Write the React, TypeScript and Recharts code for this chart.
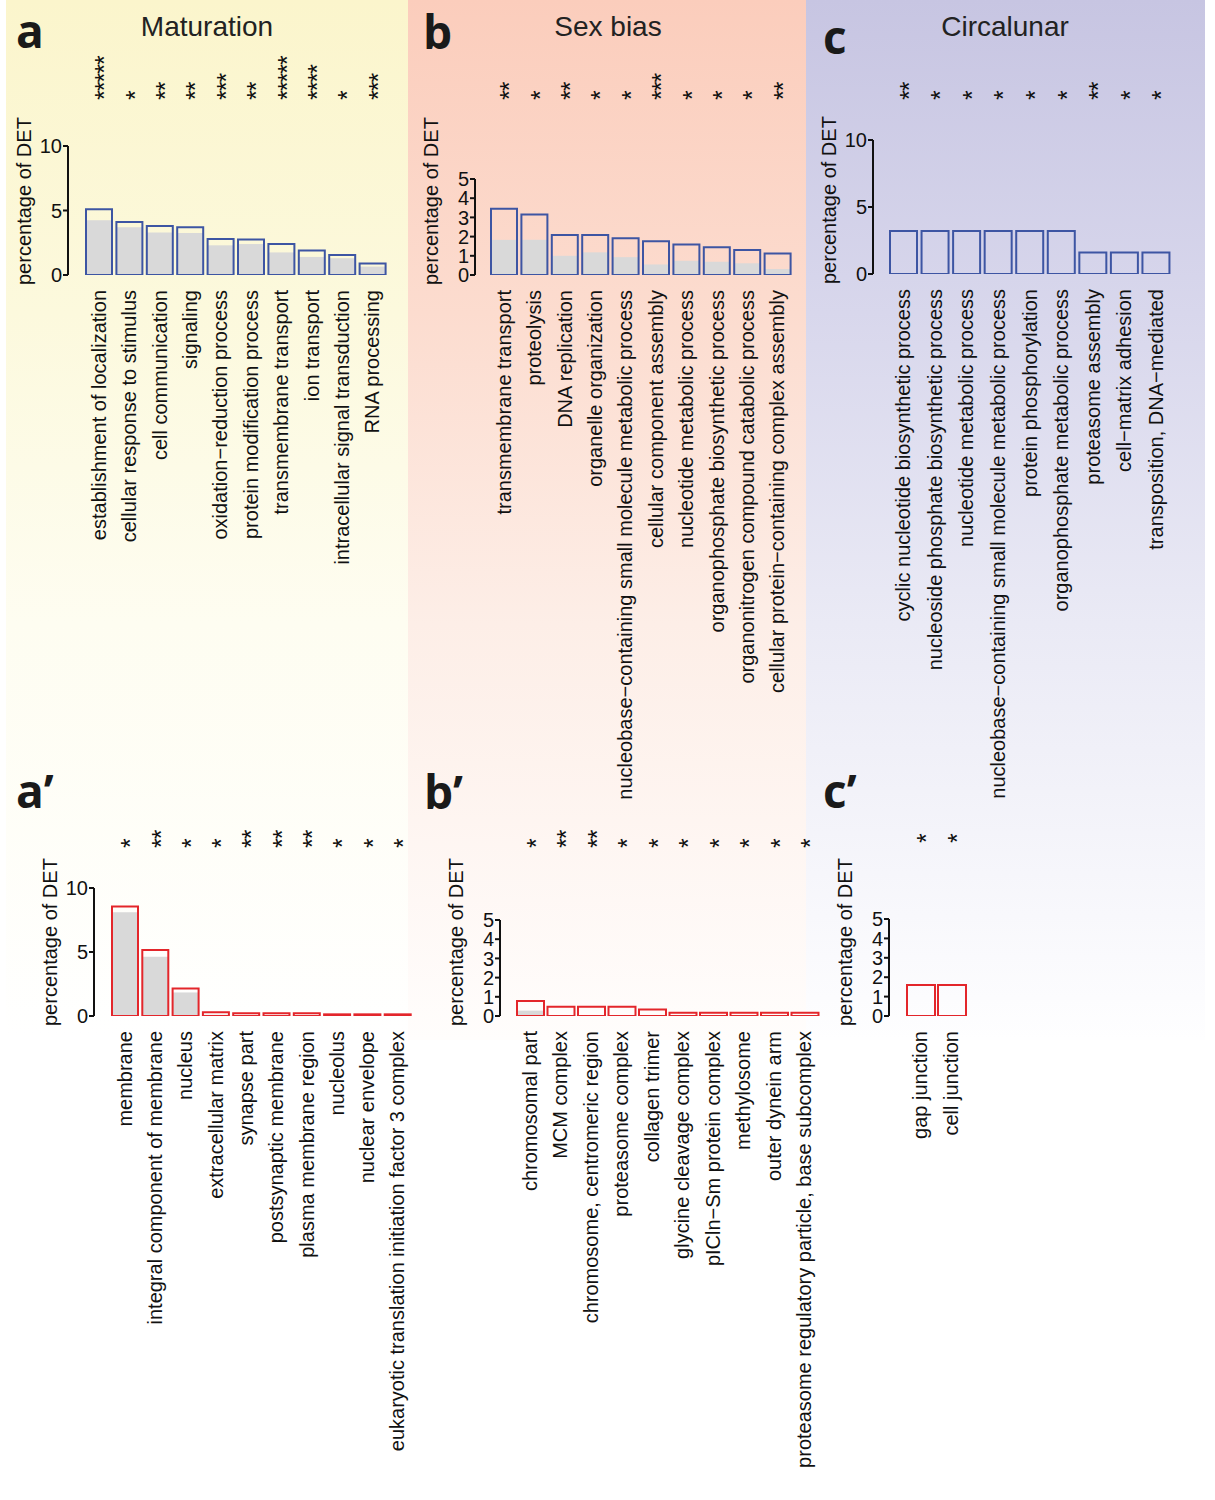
import React from "react";
import { BarChart, Bar, XAxis, YAxis, LabelList, Label } from "recharts";

const FONT = "'Liberation Sans', Arial, Helvetica, sans-serif";
const BLUE = "#3d55a3";
const RED = "#e3262b";
const GREY = "#d9d9d9";

// a – Maturation (biological process)
const matTerms = [
  "establishment of localization",
  "cellular response to stimulus",
  "cell communication",
  "signaling",
  "oxidation\u2212reduction process",
  "protein modification process",
  "transmembrane transport",
  "ion transport",
  "intracellular signal transduction",
  "RNA processing",
];
const matPct = [5.1, 4.1, 3.8, 3.7, 2.8, 2.75, 2.4, 1.9, 1.55, 0.9];
const matBg = [4.25, 3.7, 3.3, 3.25, 2.3, 2.4, 1.75, 1.4, 1.3, 0.65];
const matStars = ["*****", "*", "**", "**", "***", "**", "*****", "****", "*", "***"];

// b – Sex bias (biological process)
const sexTerms = [
  "transmembrane transport",
  "proteolysis",
  "DNA replication",
  "organelle organization",
  "nucleobase\u2212containing small molecule metabolic process",
  "cellular component assembly",
  "nucleotide metabolic process",
  "organophosphate biosynthetic process",
  "organonitrogen compound catabolic process",
  "cellular protein\u2212containing complex assembly",
];
const sexPct = [3.45, 3.15, 2.08, 2.08, 1.92, 1.76, 1.59, 1.45, 1.3, 1.12];
const sexBg = [1.83, 1.83, 1.0, 1.18, 0.93, 0.55, 0.74, 0.69, 0.61, 0.31];
const sexStars = ["**", "*", "**", "*", "*", "***", "*", "*", "*", "**"];

// c – Circalunar (biological process)
const lunTerms = [
  "cyclic nucleotide biosynthetic process",
  "nucleoside phosphate biosynthetic process",
  "nucleotide metabolic process",
  "nucleobase\u2212containing small molecule metabolic process",
  "protein phosphorylation",
  "organophosphate metabolic process",
  "proteasome assembly",
  "cell\u2212matrix adhesion",
  "transposition, DNA\u2212mediated",
];
const lunPct = [3.2, 3.2, 3.2, 3.2, 3.2, 3.2, 1.6, 1.6, 1.6];
const lunBg = [0, 0, 0, 0, 0, 0, 0, 0, 0];
const lunStars = ["**", "*", "*", "*", "*", "*", "**", "*", "*"];

// a' – Maturation (cellular component)
const matCcTerms = [
  "membrane",
  "integral component of membrane",
  "nucleus",
  "extracellular matrix",
  "synapse part",
  "postsynaptic membrane",
  "plasma membrane region",
  "nucleolus",
  "nuclear envelope",
  "eukaryotic translation initiation factor 3 complex",
];
const matCcPct = [8.55, 5.15, 2.15, 0.29, 0.21, 0.21, 0.21, 0.13, 0.13, 0.13];
const matCcBg = [8.1, 4.62, 1.84, 0.1, 0.08, 0.08, 0.08, 0.05, 0.05, 0.05];
const matCcStars = ["*", "**", "*", "*", "**", "**", "**", "*", "*", "*"];

// b' – Sex bias (cellular component)
const sexCcTerms = [
  "chromosomal part",
  "MCM complex",
  "chromosome, centromeric region",
  "proteasome complex",
  "collagen trimer",
  "glycine cleavage complex",
  "pICln\u2212Sm protein complex",
  "methylosome",
  "outer dynein arm",
  "proteasome regulatory particle, base subcomplex",
];
const sexCcPct = [0.78, 0.48, 0.48, 0.48, 0.34, 0.17, 0.17, 0.17, 0.17, 0.17];
const sexCcBg = [0.28, 0, 0, 0, 0, 0, 0, 0, 0, 0];
const sexCcStars = ["*", "**", "**", "*", "*", "*", "*", "*", "*", "*"];

// c' – Circalunar (cellular component)
const lunCcTerms = ["gap junction", "cell junction"];
const lunCcPct = [1.6, 1.6];
const lunCcBg = [0, 0];
const lunCcStars = ["*", "*"];

type Row = { name: string; pct: number; bg: number; stars: string };

const rows = (terms: string[], pct: number[], bg: number[], stars: string[]): Row[] =>
  terms.map((name, i) => ({ name, pct: pct[i], bg: bg[i], stars: stars[i] }));

type PanelProps = {
  data: Row[];
  left: number;
  top: number;
  width: number;
  height: number;
  axisX: number;
  plotTop: number;
  plotBottom: number;
  bandStart: number;
  bandEnd: number;
  yMax: number;
  ticks: number[];
  barSize: number;
  starY: number;
  color: string;
};

function TermTick(props: any) {
  const { x, y, payload } = props;
  const ty = y + 15;
  return (
    <text
      transform={`rotate(-90, ${x}, ${ty})`}
      x={x}
      y={ty}
      dy="0.33em"
      textAnchor="end"
      fontSize={20}
      fontFamily={FONT}
      fill="#111"
    >
      {payload.value}
    </text>
  );
}

function ValueTick(props: any) {
  const { x, y, payload } = props;
  return (
    <text x={x} y={y} dy="0.36em" textAnchor="end" fontSize={20} fontFamily={FONT} fill="#111">
      {payload.value}
    </text>
  );
}

function Panel(p: PanelProps) {
  // significance stars, stacked vertically above each bar
  const starLabel = (lp: any) => {
    const vb = lp.viewBox || lp;
    const cx = vb.x + vb.width / 2;
    return (
      <text
        transform={`rotate(-90, ${cx}, ${p.starY})`}
        x={cx}
        y={p.starY}
        dy="0.57em"
        textAnchor="start"
        fontSize={25}
        letterSpacing={-1}
        fontFamily={FONT}
        fill="#111"
      >
        {lp.value}
      </text>
    );
  };

  const yLabel = () => (
    <text
      transform={`rotate(-90, ${p.axisX - 44}, ${p.plotBottom + 10})`}
      x={p.axisX - 44}
      y={p.plotBottom + 10}
      dy="0.35em"
      textAnchor="start"
      fontSize={20}
      fontFamily={FONT}
      fill="#111"
    >
      percentage of DET
    </text>
  );

  return (
    <div style={{ position: "absolute", left: p.left, top: p.top }}>
      <BarChart
        width={p.width}
        height={p.height}
        data={p.data}
        margin={{ top: p.plotTop, right: p.width - p.bandEnd, bottom: 0, left: 0 }}
        barSize={p.barSize}
        barGap={-p.barSize}
      >
        <XAxis
          dataKey="name"
          height={p.height - p.plotBottom}
          padding={{ left: p.bandStart - p.axisX, right: 0 }}
          axisLine={false}
          tickLine={false}
          tickSize={0}
          tickMargin={0}
          interval={0}
          tick={<TermTick />}
        />
        <YAxis
          width={p.axisX}
          domain={[0, p.yMax]}
          ticks={p.ticks}
          interval={0}
          allowDataOverflow
          tickSize={5}
          tickMargin={1}
          axisLine={{ stroke: "#111", strokeWidth: 2 }}
          tickLine={{ stroke: "#111", strokeWidth: 2 }}
          tick={<ValueTick />}
        >
          <Label content={yLabel} />
        </YAxis>
        <Bar dataKey="bg" fill={GREY} isAnimationActive={false} />
        <Bar dataKey="pct" fill="none" stroke={p.color} strokeWidth={2} isAnimationActive={false}>
          <LabelList dataKey="stars" content={starLabel} />
        </Bar>
      </BarChart>
    </div>
  );
}

export default function App() {
  const topH = 840;
  const botTop = 700;
  const botH = 800;
  return (
    <div
      style={{
        position: "absolute",
        left: 0,
        top: 0,
        width: 1215,
        height: 1500,
        background: "#ffffff",
        overflow: "hidden",
        fontFamily: FONT,
      }}
    >
      <div
        style={{
          position: "absolute", left: 6, top: 0, width: 402, height: 1040,
          background: "linear-gradient(to bottom, #fbf5cc 0%, #fcf9dd 30%, #fefdf1 60%, #ffffff 100%)",
        }}
      />
      <div
        style={{
          position: "absolute", left: 408, top: 0, width: 398, height: 1040,
          background: "linear-gradient(to bottom, #fbcdbc 0%, #fcdccf 30%, #fdeee7 60%, #fffdfc 100%)",
        }}
      />
      <div
        style={{
          position: "absolute", left: 806, top: 0, width: 399, height: 1040,
          background: "linear-gradient(to bottom, #c7c5e2 0%, #d8d7ec 30%, #eaeaf5 60%, #fefeff 100%)",
        }}
      />

      <Panel
        data={rows(matTerms, matPct, matBg, matStars)}
        left={0} top={0} width={400} height={topH}
        axisX={68} plotTop={146} plotBottom={275} bandStart={84} bandEnd={388}
        yMax={10} ticks={[0, 5, 10]} barSize={26} starY={100} color={BLUE}
      />
      <Panel
        data={rows(sexTerms, sexPct, sexBg, sexStars)}
        left={400} top={0} width={400} height={topH}
        axisX={75} plotTop={179} plotBottom={275} bandStart={89} bandEnd={393}
        yMax={5} ticks={[0, 1, 2, 3, 4, 5]} barSize={26} starY={100} color={BLUE}
      />
      <Panel
        data={rows(lunTerms, lunPct, lunBg, lunStars)}
        left={800} top={0} width={400} height={topH}
        axisX={73} plotTop={140} plotBottom={274} bandStart={88} bandEnd={372}
        yMax={10} ticks={[0, 5, 10]} barSize={27} starY={100} color={BLUE}
      />
      <Panel
        data={rows(matCcTerms, matCcPct, matCcBg, matCcStars)}
        left={0} top={botTop} width={420} height={botH}
        axisX={94} plotTop={188} plotBottom={316} bandStart={110} bandEnd={413}
        yMax={10} ticks={[0, 5, 10]} barSize={26} starY={148} color={RED}
      />
      <Panel
        data={rows(sexCcTerms, sexCcPct, sexCcBg, sexCcStars)}
        left={400} top={botTop} width={430} height={botH}
        axisX={100} plotTop={220} plotBottom={316} bandStart={115} bandEnd={420}
        yMax={5} ticks={[0, 1, 2, 3, 4, 5]} barSize={27} starY={148} color={RED}
      />
      <Panel
        data={rows(lunCcTerms, lunCcPct, lunCcBg, lunCcStars)}
        left={800} top={botTop} width={400} height={botH}
        axisX={89} plotTop={219} plotBottom={316} bandStart={105} bandEnd={167}
        yMax={5} ticks={[0, 1, 2, 3, 4, 5]} barSize={28} starY={143} color={RED}
      />

      <svg
        width={1215}
        height={1500}
        style={{ position: "absolute", left: 0, top: 0, pointerEvents: "none" }}
      >
        <g fontFamily={FONT} fontSize={28} fill="#222" textAnchor="middle">
          <text x={207} y={36}>Maturation</text>
          <text x={608} y={36}>Sex bias</text>
          <text x={1005} y={36}>Circalunar</text>
        </g>
        <g fontFamily="'Open Sans', sans-serif" fontWeight={700} fontSize={46} fill="#1a1a1a">
          <text x={16} y={48}>a</text>
          <text x={423} y={49}>b</text>
          <text x={823} y={54}>c</text>
          <text x={16} y={808}>a’</text>
          <text x={424} y={809}>b’</text>
          <text x={823} y={808}>c’</text>
        </g>
      </svg>
    </div>
  );
}
